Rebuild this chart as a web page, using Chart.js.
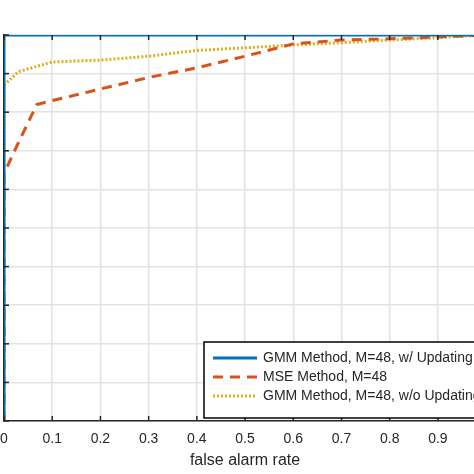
<!DOCTYPE html><html><head><script src="https://cdn.jsdelivr.net/npm/chart.js"></script>
<style>html,body{margin:0;overflow:hidden;width:474px;height:474px;background:#fff}#w{position:absolute;left:-40px;top:0;width:540px;height:474px}</style></head><body><div id="w"><canvas id="c"></canvas></div>
<script>
const labels=["GMM Method, M=48, w/ Updating","MSE Method, M=48","GMM Method, M=48, w/o Updating"];
const gmmX=[0,0,1], gmmY=[0,1,1];
const mseX=[0,0,0.018,0.068,0.1,0.2,0.3,0.4,0.5,0.6,0.7,0.8,0.9,1];
const mseY=[0,0.64,0.69,0.82,0.83,0.86,0.89,0.915,0.945,0.977,0.987,0.99,0.995,1];
const gmm2X=[0,0,0.03,0.1,0.2,0.3,0.4,0.5,0.6,0.7,0.8,0.9,1];
const gmm2Y=[0,0.87,0.905,0.93,0.935,0.945,0.96,0.967,0.974,0.98,0.987,0.993,1];
const xTicks=[0,0.1,0.2,0.3,0.4,0.5,0.6,0.7,0.8,0.9,1];
const pts=(xs,ys)=>xs.map((x,i)=>({x,y:ys[i]}));
const legendPlugin={id:'lg',afterDraw(ch){const c=ch.ctx,a=ch.chartArea;
 c.save();c.strokeStyle='#262626';c.lineWidth=1.5;
 const xs=ch.scales.x,ys=ch.scales.y;
 xTicks.forEach(t=>{const px=xs.getPixelForValue(t);c.beginPath();c.moveTo(px,a.bottom);c.lineTo(px,a.bottom-5);c.moveTo(px,a.top);c.lineTo(px,a.top+5);c.stroke();});
 for(let t=0;t<=1.001;t+=0.1){const py=ys.getPixelForValue(t);c.beginPath();c.moveTo(a.left,py);c.lineTo(a.left+5,py);c.stroke();}
 const x0=244,y0=342,w=300,h=76;
 c.fillStyle='#fff';c.fillRect(x0,y0,w,h);c.strokeStyle='#000';c.lineWidth=1.5;c.strokeRect(x0,y0,w,h);
 c.font='14px "Liberation Sans", Arial';c.textBaseline='middle';
 ch.data.datasets.forEach((d,i)=>{const y=y0+16+i*19;c.strokeStyle=d.borderColor;c.lineWidth=d.borderWidth;c.setLineDash(d.borderDash||[]);
  c.beginPath();c.moveTo(x0+9,y);c.lineTo(x0+53,y);c.stroke();c.setLineDash([]);c.fillStyle='#262626';c.fillText(d.label,x0+59,y);});
 c.restore();}};
new Chart(document.getElementById('c'),{type:'line',
data:{datasets:[
{label:labels[0],data:pts(gmmX,gmmY),borderColor:'#0072BD',borderWidth:3,pointRadius:0,fill:false},
{label:labels[1],data:pts(mseX,mseY),borderColor:'#D95319',borderWidth:3,borderDash:[10,7],pointRadius:0,fill:false},
{label:labels[2],data:pts(gmm2X,gmm2Y),borderColor:'#E2AC1C',borderWidth:3,borderDash:[2,2],pointRadius:0,fill:false}]},
options:{animation:false,responsive:true,maintainAspectRatio:false,events:[],
layout:{padding:{left:44,right:0,top:35,bottom:0}},
plugins:{legend:{display:false},tooltip:{enabled:false}},
scales:{
x:{type:'linear',min:0,max:1,afterBuildTicks(s){s.ticks=xTicks.map(v=>({value:v}));},
 afterFit(s){s.height=53;},
 grid:{color:'#e3e3e3',lineWidth:1.5,drawTicks:false},border:{color:'#262626',width:1.5},
 ticks:{padding:10,color:'#262626',font:{family:'"Liberation Sans", Arial',size:14},callback:v=>String(v)},
 title:{display:true,text:'false alarm rate',color:'#262626',padding:{top:3},font:{family:'"Liberation Sans", Arial',size:16}}},
y:{type:'linear',min:0,max:1,afterFit(s){s.width=0;},
 ticks:{display:false,stepSize:0.1},
 grid:{color:'#e3e3e3',lineWidth:1.5,drawTicks:false},border:{color:'#262626',width:1.5}}}},
plugins:[legendPlugin]});
</script></body></html>
